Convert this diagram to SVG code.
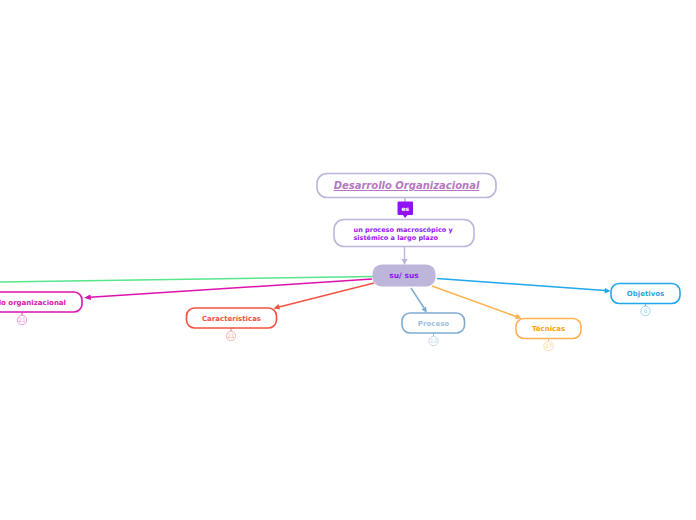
<svg xmlns="http://www.w3.org/2000/svg" width="696" height="520" viewBox="0 0 696 520">
<style>
text{font-family:"DejaVu Sans",Verdana,sans-serif;font-weight:700;font-size:7px}
.m{text-anchor:middle}
.n{fill:#fff;stroke-width:1.6}
.c{fill:none;stroke-width:1.5}
.b{fill:#fff;stroke-width:.7;stroke-opacity:.6}
.bt{font-size:6px;font-weight:400;text-anchor:middle;fill-opacity:.5}
</style>
<rect width="696" height="520" fill="#fff"/>
<g id="connectors">
<path class="c" stroke="#bdb5da" d="M405 197V204"/>
<path class="c" stroke="#bdb5da" d="M404.500 247V260"/><path fill="#bdb5da" d="M401.500 259H407.500L404.500 265Z"/>
<path class="c" stroke="#57e68c" d="M0 282L373 276.500"/>
<path class="c" stroke="#dd11ad" d="M372 279L90 297.300"/><path fill="#dd11ad" d="M84 297.700L90.500 294.500L91 300Z"/>
<path class="c" stroke="#ef5340" d="M374 283L279 307"/><path fill="#ef5340" d="M273.500 308.500L278.500 304L280 309.500Z"/>
<path class="c" stroke="#7facd1" d="M411 288L424 308"/><path fill="#7facd1" d="M427 313L421.500 309.500L426 306.500Z"/>
<path class="c" stroke="#ffb14f" d="M432 286L516 316.500"/><path fill="#ffb14f" d="M521.500 318.500L515 319L517 313.500Z"/>
<path class="c" stroke="#1fa8ec" d="M437 278.500L605 290.500"/><path fill="#1fa8ec" d="M610.500 291L604.500 293.500L605 288Z"/>
</g>
<g id="root">
<rect class="n" x="317" y="173.500" width="179" height="24" rx="10" stroke="#bdb5da"/>
<text class="m" x="406.500" y="189" style="font-size:10px;font-style:italic" fill="#b678c0" text-decoration="underline">Desarrollo Organizacional</text>
</g>
<g id="link-es">
<path fill="#8f13f4" d="M399 201.500H412Q413 201.500 413 202.500V214Q413 215 412 215H407.500L405 218L403 215H399Q397.500 215 397.500 214V202.500Q397.500 201.500 399 201.500Z"/>
<text class="m" x="405.300" y="211" style="font-size:6px" fill="#fff">es</text>
</g>
<g id="definition">
<rect class="n" x="334" y="219.500" width="140" height="27" rx="10" stroke="#bdb5da"/>
<text x="353.500" y="232" style="font-size:6.500px" fill="#9314f5">un proceso macroscópico y</text>
<text x="353.500" y="240" style="font-size:6.500px" fill="#9314f5">sistémico a largo plazo</text>
</g>
<g id="center">
<rect x="372.500" y="264.500" width="63" height="22" rx="9" fill="#bdb5da"/>
<text class="m" x="404" y="278" style="font-size:7.500px" fill="#8f13f4">su/ sus</text>
</g>
<g id="desarrollo">
<rect class="n" x="-40" y="292" width="122" height="20" rx="8" stroke="#dd11ad"/>
<text x="66" y="305" text-anchor="end" fill="#dd11ad">lo organizacional</text>
<path stroke="#dd11ad" stroke-width=".8" d="M22 312V315"/>
<circle class="b" cx="22" cy="320" r="4.700" stroke="#dd11ad"/>
<text class="bt" x="22" y="322" fill="#dd11ad">21</text>
</g>
<g id="caracteristicas">
<rect class="n" x="186.500" y="308" width="90" height="20" rx="8" stroke="#ef5340"/>
<text class="m" x="231.500" y="321" fill="#ef5340">Características</text>
<path stroke="#ef5340" stroke-width=".8" d="M231 328V331"/>
<circle class="b" cx="231" cy="336" r="4.700" stroke="#ef5340"/>
<text class="bt" x="231" y="338" fill="#ef5340">21</text>
</g>
<g id="proceso">
<rect class="n" x="402" y="313" width="62.500" height="20" rx="8" stroke="#7facd1"/>
<text class="m" x="433.500" y="326" fill="#9dbfdc">Proceso</text>
<path stroke="#7facd1" stroke-width=".8" d="M433.500 333V336"/>
<circle class="b" cx="433.500" cy="341" r="4.700" stroke="#7facd1"/>
<text class="bt" x="433.500" y="343" fill="#7facd1">12</text>
</g>
<g id="tecnicas">
<rect class="n" x="516" y="318.500" width="65" height="20" rx="8" stroke="#ffb14f"/>
<text class="m" x="548.500" y="331" fill="#ffa200">Técnicas</text>
<path stroke="#ffb14f" stroke-width=".8" d="M548.500 338.500V341"/>
<circle class="b" cx="548.500" cy="346" r="4.700" stroke="#ffb14f"/>
<text class="bt" x="548.500" y="348" fill="#ffa200">27</text>
</g>
<g id="objetivos">
<rect class="n" x="611" y="283.500" width="69" height="20" rx="8" stroke="#1fa8ec"/>
<text class="m" x="645.500" y="296" fill="#2ba4e2">Objetivos</text>
<path stroke="#1fa8ec" stroke-width=".8" d="M645.500 303.500V306"/>
<circle class="b" cx="645.500" cy="311" r="4.700" stroke="#1fa8ec"/>
<text class="bt" x="645.500" y="313" fill="#1fa8ec">6</text>
</g>
</svg>
